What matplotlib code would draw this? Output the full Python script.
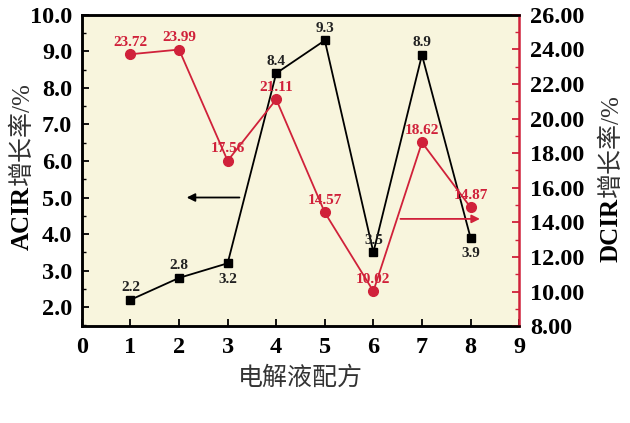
import numpy as np
import matplotlib.pyplot as plt
from matplotlib.ticker import MultipleLocator, FormatStrFormatter

plt.rcParams['font.family'] = ['Liberation Serif', 'Noto Sans CJK SC']

formula = [1, 2, 3, 4, 5, 6, 7, 8]
acir = [2.2, 2.8, 3.2, 8.4, 9.3, 3.5, 8.9, 3.9]
dcir = [23.72, 23.99, 17.56, 21.11, 14.57, 10.02, 18.62, 14.87]
acir_labels = ['2.2', '2.8', '3.2', '8.4', '9.3', '3.5', '8.9', '3.9']
dcir_labels = ['23.72', '23.99', '17.56', '21.11', '14.57', '10.02', '18.62', '14.87']
acir_below = [False, False, True, False, False, False, False, True]

red = '#d0213a'
bg = '#f8f5dd'

fig = plt.figure(figsize=(6.3, 4.23), dpi=100)
ax = fig.add_axes([0.130, 0.229, 0.694, 0.736])
ax.set_facecolor(bg)
ax2 = ax.twinx()

ax.plot(formula, acir, color='black', lw=1.3, marker='s', ms=5.5, zorder=3)
ax2.plot(formula, dcir, color=red, lw=1.3, marker='o', ms=7, zorder=3)

for x, y, t, below in zip(formula, acir, acir_labels, acir_below):
    off = -16 if below else 4
    ax.annotate(t, (x, y), xytext=(0, off), textcoords='offset points',
                ha='center', va='bottom', fontsize=11, fontweight='bold', color='#222222')
for x, y, t in zip(formula, dcir, dcir_labels):
    ax2.annotate(t, (x, y), xytext=(0, 4), textcoords='offset points',
                 ha='center', va='bottom', fontsize=11, fontweight='bold', color=red)

# direction arrows
ax.annotate('', xy=(2.1, 5.0), xytext=(3.3, 5.0),
            arrowprops=dict(arrowstyle='-|>', color='black', lw=1.3, mutation_scale=12))
ax2.annotate('', xy=(8.25, 14.2), xytext=(6.5, 14.2),
             arrowprops=dict(arrowstyle='-|>', color=red, lw=1.3, mutation_scale=12))

ax.set_xlim(0, 9)
ax.set_ylim(1.48, 10.0)
ax2.set_ylim(8.0, 26.0)
ax.set_xticks(range(0, 10))
ax.yaxis.set_major_locator(MultipleLocator(1.0))
ax.yaxis.set_minor_locator(MultipleLocator(0.5))
ax.yaxis.set_major_formatter(FormatStrFormatter('%.1f'))
ax2.yaxis.set_major_locator(MultipleLocator(2.0))
ax2.yaxis.set_minor_locator(MultipleLocator(1.0))
ax2.yaxis.set_major_formatter(FormatStrFormatter('%.2f'))
ax.set_yticks(np.arange(2.0, 10.01, 1.0))

ax.tick_params(axis='both', which='both', direction='in', labelsize=17.5)
ax.tick_params(axis='both', which='major', length=5, width=1.3)
ax.tick_params(axis='y', which='minor', length=3, width=1.0)
ax.tick_params(axis='y', pad=7)
ax.tick_params(axis='x', pad=8)
ax2.tick_params(axis='y', which='both', direction='in', colors=red, labelcolor='black',
                labelsize=17.5, pad=8)
ax2.tick_params(axis='y', which='major', length=5, width=1.3)
ax2.tick_params(axis='y', which='minor', length=3, width=1.0)

for lab in ax.get_xticklabels() + ax.get_yticklabels() + ax2.get_yticklabels():
    lab.set_fontweight('bold')

for s in ['left', 'top', 'bottom']:
    ax.spines[s].set_linewidth(1.8)
    ax2.spines[s].set_linewidth(1.8)
ax2.spines['right'].set_color(red)
ax2.spines['right'].set_linewidth(1.8)
ax.spines['right'].set_visible(False)

# axis titles: bold Latin part, light Chinese part
renderer = fig.canvas.get_renderer()
H = fig.get_figheight() * fig.dpi


def vlabel(xpx, ybot_px, latin, cjk):
    t1 = fig.text(xpx / 630, 1 - ybot_px / H, latin, rotation=90, ha='center', va='bottom',
                  fontsize=18, fontweight='bold', color='black')
    h = t1.get_window_extent(renderer).height
    fig.text(xpx / 630, 1 - (ybot_px - h - 1) / H, cjk, rotation=90, ha='center', va='bottom',
             fontsize=18, color='#333333')


vlabel(22, 250, 'ACIR', '增长率/%')
vlabel(611, 262, 'DCIR', '增长率/%')

fig.text(300 / 630, 1 - 378 / H, '电解液配方', ha='center', va='center',
         fontsize=18, color='#333333')

fig.savefig('out.png', dpi=100)
